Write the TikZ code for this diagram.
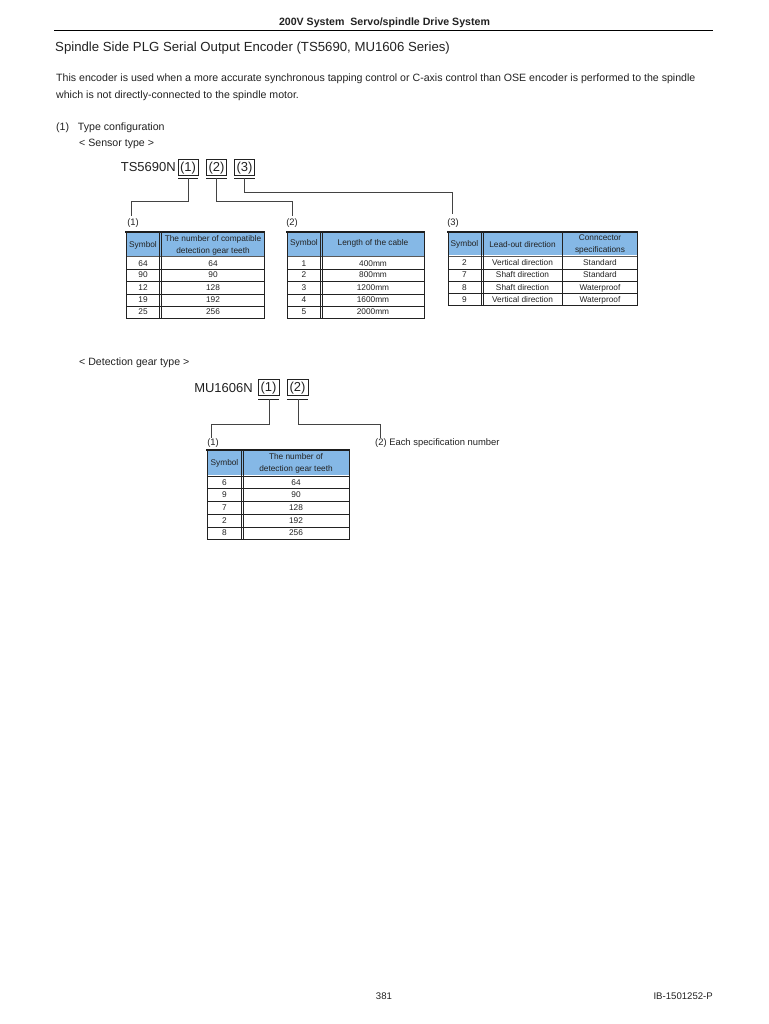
\documentclass[tikz,border=0pt]{standalone}
\usepackage{fontspec}
\setmainfont{Liberation Sans}
\definecolor{hdr}{HTML}{85B8E6}
\definecolor{ink}{HTML}{222222}
\newcommand{\fs}[1]{\fontsize{#1}{#1}\selectfont}
\newcommand{\fsh}{\fontsize{8.3}{12}\selectfont}
\tikzset{
  txt/.style={inner sep=0pt,text=ink,font=\fs{10.6},anchor=west,text height=7.6pt,text depth=2pt,yshift=-1.6pt},
  cell/.style={inner sep=0pt,text=ink,font=\fs{8.3},align=center,text height=6pt,text depth=1.7pt,yshift=-0.7pt},
  hcell/.style={inner sep=0pt,text=ink,font=\fsh,align=center,yshift=-0.8pt},
  grid/.style={draw=ink,line width=1pt,line cap=rect},
  heavy/.style={draw=ink!85!black,line width=1.3pt,line cap=rect},
  code/.style={inner sep=0pt,draw=ink,line width=0.7pt,minimum height=16pt,font=\fs{13},text=ink,text height=10.8pt,text depth=2pt},
  ucode/.style={draw=ink,line width=0.9pt},
  leader/.style={draw=ink!85,line width=1pt},
  lab/.style={inner sep=0pt,font=\fs{9.4},text=ink,text height=7pt,text depth=2pt,yshift=-0.5pt},
}
\begin{document}
\begin{tikzpicture}[x=1pt,y=-1pt]
\useasboundingbox[fill=white] (0,0) rectangle (768,1024);
% page head
\node[inner sep=0pt,font=\bfseries\fs{10.6},text=ink] (head) at (384.5,22.5) {200V System\ \ Servo/spindle Drive System};
\coordinate (rl) at (54,30.5); \coordinate (rr) at (713,30.5);
\draw[draw=black,line width=1pt] (rl) -- (rr);
\node[txt,font=\fs{13.2}] (title) at (55,47) {Spindle Side PLG Serial Output Encoder (TS5690, MU1606 Series)};
\node[txt] (p1) at (56,77.5) {This encoder is used when a more accurate synchronous tapping control or C-axis control than OSE encoder is performed to the spindle};
\node[txt] (p2) at (56,94) {which is not directly-connected to the spindle motor.};
\node[txt] (s1) at (56,126) {(1)\ \ \ Type configuration};
\node[txt] (s2) at (79,142) {< Sensor type >};
\node[txt] (s3) at (79,361) {< Detection gear type >};
\node[inner sep=0pt,font=\fs{9.6},text=ink] (pg) at (384,996) {381};
\node[inner sep=0pt,font=\fs{9.6},text=ink,anchor=east] (doc) at (713,996) {IB-1501252-P};

% TS5690N code
\node[inner sep=0pt,font=\fs{13},text=ink,anchor=east] (ts) at (176,167.5) {TS5690N};
\node[code,minimum width=20pt] (a1) at (188,167) {(1)};
\node[code,minimum width=20pt] (a2) at (216.5,167) {(2)};
\node[code,minimum width=20pt] (a3) at (244.5,167) {(3)};
\draw[ucode] (178,178) -- (198,178) (206,178) -- (227,178) (234,178) -- (255,178);
\coordinate (a1t) at (188,178); \coordinate (a2t) at (216,178); \coordinate (a3t) at (244,178);
\coordinate (t1e) at (131,216); \coordinate (t2e) at (292,216); \coordinate (t3e) at (452,214);
\draw[leader] (a1t) -- (188,202) -- (131,202) -- (t1e);
\draw[leader] (a2t) -- (216,202) -- (292,202) -- (t2e);
\draw[leader] (a3t) -- (244,193) -- (452,193) -- (t3e);
\node[lab] (l1) at (133,222.5) {(1)};
\node[lab] (l2) at (292,222.5) {(2)};
\node[lab] (l3) at (453,222.5) {(3)};

% Table 1
\fill[hdr] (126,232) rectangle (264,256);
\draw[heavy] (126,232) -- (264,232);
\draw[draw=ink!75,line width=1.5pt] (126,256.5) -- (264,256.5);
\draw[grid] (126,232) -- (126,318) (264,232) -- (264,318);
\draw[grid] (159.2,232) -- (159.2,318) (161.8,232) -- (161.8,318);
\foreach \y in {269,281,294,306,318} \draw[grid] (126,\y) -- (264,\y);
\node[hcell] (t1h1) at (143,244.5) {Symbol};
\node[hcell] (t1h2) at (213,244.5) {The number of compatible\\detection gear teeth};
\foreach \s/\v/\y in {64/64/263.5,90/90/275,12/128/287.5,19/192/300,25/256/312}{
  \node[cell] (t1a\v) at (143,\y) {\s};
  \node[cell] (t1b\v) at (213,\y) {\v};
}
% Table 2
\fill[hdr] (287,232) rectangle (424,256);
\draw[heavy] (287,232) -- (424,232);
\draw[draw=ink!75,line width=1.5pt] (287,256.5) -- (424,256.5);
\draw[grid] (287,232) -- (287,318) (424,232) -- (424,318);
\draw[grid] (320.2,232) -- (320.2,318) (322.8,232) -- (322.8,318);
\foreach \y in {269,281,294,306,318} \draw[grid] (287,\y) -- (424,\y);
\node[hcell] (t2h1) at (304,243) {Symbol};
\node[hcell] (t2h2) at (373,243) {Length of the cable};
\foreach \s/\v/\y in {1/400/263.5,2/800/275,3/1200/287.5,4/1600/300,5/2000/312}{
  \node[cell] (t2a\s) at (304,\y) {\s};
  \node[cell] (t2b\s) at (373,\y) {\v mm};
}
% Table 3
\fill[hdr] (448,232) rectangle (637,255);
\draw[heavy] (448,232) -- (637,232);
\draw[draw=ink!75,line width=1.5pt] (448,256.5) -- (637,256.5);
\draw[grid] (448,232) -- (448,305) (637,232) -- (637,305) (562,232) -- (562,305);
\draw[grid] (481.2,232) -- (481.2,305) (483.8,232) -- (483.8,305);
\foreach \y in {269,281,293,305} \draw[grid] (448,\y) -- (637,\y);
\node[hcell] (t3h1) at (464.5,243.5) {Symbol};
\node[hcell] (t3h2) at (522.5,243.5) {Lead-out direction};
\node[hcell] (t3h3) at (600,244) {Conncector\\specifications};
\foreach \s/\d/\w/\y in {2/Vertical direction/Standard/263,7/Shaft direction/Standard/275,8/Shaft direction/Waterproof/287.5,9/Vertical direction/Waterproof/299.5}{
  \node[cell] (t3a\s) at (464.5,\y) {\s};
  \node[cell] (t3b\s) at (522.5,\y) {\d};
  \node[cell] (t3c\s) at (600,\y) {\w};
}

% MU1606N code
\node[inner sep=0pt,font=\fs{13},text=ink,anchor=east] (mu) at (253,388) {MU1606N};
\node[code,minimum width=21pt] (b1) at (268.5,387) {(1)};
\node[code,minimum width=21pt] (b2) at (297.5,387) {(2)};
\draw[ucode] (258,399) -- (279,399) (287,399) -- (308,399);
\coordinate (b1t) at (269,399); \coordinate (b2t) at (298,399);
\coordinate (t4e) at (211,438); \coordinate (t5e) at (380,438);
\draw[leader] (b1t) -- (269,424) -- (211,424) -- (t4e);
\draw[leader] (b2t) -- (298,424) -- (380,424) -- (t5e);
\node[lab] (l4) at (213,442.5) {(1)};
\node[lab,anchor=west] (l5) at (375,442.5) {(2) Each specification number};

% Table 4
\fill[hdr] (207,450) rectangle (349,475);
\draw[heavy] (207,450) -- (349,450);
\draw[draw=ink,line width=1.3pt] (207,476.8) -- (349,476.8);
\draw[grid] (207,450) -- (207,539) (349,450) -- (349,539);
\draw[grid] (241,450) -- (241,539) (243.6,450) -- (243.6,539);
\foreach \y in {488,501,514,527,539} \draw[grid] (207,\y) -- (349,\y);
\node[hcell] (t4h1) at (224.5,463) {Symbol};
\node[hcell] (t4h2) at (296,463) {The number of\\detection gear teeth};
\foreach \s/\v/\y in {6/64/482.5,9/90/495,7/128/508,2/192/520.5,8/256/533}{
  \node[cell] (t4a\s) at (224.5,\y) {\s};
  \node[cell] (t4b\s) at (296,\y) {\v};
}
\end{tikzpicture}
\end{document}
